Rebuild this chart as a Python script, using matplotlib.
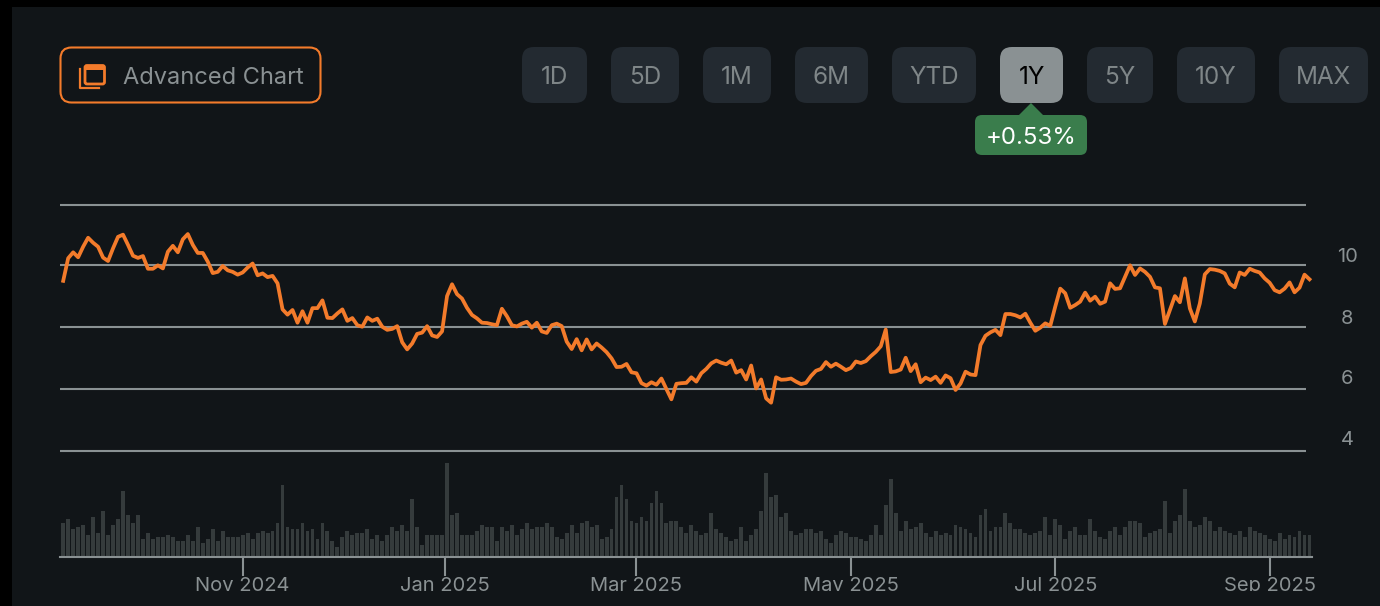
#! /usr/bin/env python

import matplotlib
matplotlib.use('Agg')
import matplotlib.pyplot as plt
from matplotlib.patches import FancyBboxPatch, Polygon, Rectangle

# daily close
close = [
    9.49, 10.22, 10.41, 10.25, 10.59, 10.88, 10.72, 10.59, 10.24, 10.13,
    10.54, 10.91, 10.98, 10.65, 10.30, 10.23, 10.29, 9.88, 9.88, 9.99,
    9.89, 10.43, 10.62, 10.41, 10.83, 11.00, 10.65, 10.39, 10.39, 10.11,
    9.74, 9.78, 9.97, 9.83, 9.78, 9.69, 9.76, 9.92, 10.05, 9.67,
    9.73, 9.61, 9.65, 9.41, 8.57, 8.40, 8.55, 8.14, 8.51, 8.14,
    8.61, 8.61, 8.86, 8.30, 8.29, 8.44, 8.57, 8.20, 8.29, 8.06,
    8.01, 8.31, 8.20, 8.27, 8.01, 7.91, 7.94, 8.03, 7.51, 7.28,
    7.47, 7.78, 7.82, 8.03, 7.73, 7.68, 7.86, 9.00, 9.38, 9.06,
    8.92, 8.62, 8.39, 8.28, 8.14, 8.13, 8.09, 8.06, 8.59, 8.35,
    8.06, 8.02, 8.11, 8.17, 7.98, 8.14, 7.86, 7.81, 8.06, 8.11,
    8.03, 7.53, 7.29, 7.61, 7.25, 7.60, 7.28, 7.47, 7.34, 7.19,
    6.99, 6.71, 6.72, 6.81, 6.54, 6.51, 6.19, 6.11, 6.22, 6.14,
    6.34, 6.00, 5.67, 6.17, 6.19, 6.20, 6.38, 6.24, 6.51, 6.65,
    6.83, 6.92, 6.85, 6.80, 6.92, 6.53, 6.61, 6.31, 6.76, 6.02,
    6.31, 5.70, 5.56, 6.38, 6.30, 6.31, 6.34, 6.24, 6.16, 6.20,
    6.42, 6.59, 6.65, 6.87, 6.72, 6.82, 6.72, 6.61, 6.68, 6.89,
    6.84, 6.90, 7.06, 7.20, 7.38, 7.92, 6.55, 6.57, 6.63, 7.01,
    6.58, 6.80, 6.22, 6.37, 6.29, 6.40, 6.20, 6.44, 6.35, 5.97,
    6.18, 6.56, 6.47, 6.45, 7.42, 7.72, 7.83, 7.91, 7.74, 8.42,
    8.42, 8.38, 8.31, 8.43, 8.14, 7.88, 7.98, 8.12, 8.04, 8.66,
    9.24, 9.09, 8.62, 8.71, 8.82, 9.11, 8.85, 8.98, 8.75, 8.82,
    9.41, 9.23, 9.25, 9.62, 9.99, 9.68, 9.89, 9.78, 9.62, 9.28,
    9.25, 8.10, 8.55, 9.00, 8.80, 9.57, 8.60, 8.18, 8.76, 9.70,
    9.87, 9.85, 9.81, 9.73, 9.40, 9.28, 9.76, 9.68, 9.88, 9.81,
    9.76, 9.57, 9.43, 9.19, 9.12, 9.24, 9.44, 9.12, 9.27, 9.69,
    9.54,
]

volume = [
    10.0, 11.2, 8.2, 8.8, 9.4, 6.4, 11.8, 7.0, 13.6, 6.4,
    9.4, 11.2, 19.6, 12.4, 10.0, 12.4, 5.2, 7.0, 5.2, 5.8,
    5.8, 6.4, 5.8, 4.6, 4.6, 6.4, 4.6, 8.8, 4.0, 5.2,
    8.2, 4.6, 7.6, 5.8, 5.8, 5.8, 6.4, 7.0, 5.2, 7.0,
    7.6, 7.0, 7.6, 10.0, 21.4, 8.8, 8.2, 8.2, 10.0, 7.6,
    8.2, 5.2, 10.0, 7.6, 4.6, 2.8, 5.8, 7.6, 6.4, 7.0,
    7.0, 8.2, 5.2, 6.4, 4.6, 6.4, 8.8, 7.6, 9.4, 7.6,
    17.2, 8.8, 3.4, 6.4, 6.4, 6.4, 6.4, 28.0, 12.4, 13.0,
    6.4, 6.4, 6.4, 7.6, 9.4, 8.8, 8.8, 4.6, 8.8, 7.6,
    9.4, 6.4, 8.2, 10.0, 8.2, 8.8, 8.8, 10.0, 8.8, 5.8,
    5.2, 7.0, 9.4, 7.0, 10.0, 10.6, 8.8, 9.4, 5.2, 5.8,
    8.2, 17.8, 21.4, 17.2, 10.6, 10.0, 11.8, 10.6, 16.0, 19.6,
    16.0, 10.0, 10.6, 10.6, 8.8, 7.0, 9.4, 7.6, 6.4, 7.0,
    13.0, 8.2, 7.0, 5.8, 4.6, 5.2, 8.8, 4.6, 6.4, 8.2,
    13.6, 25.0, 17.8, 18.4, 11.8, 13.0, 7.6, 6.4, 7.0, 8.2,
    8.2, 7.0, 7.6, 5.2, 4.0, 6.4, 7.6, 7.0, 5.8, 5.8,
    5.2, 4.6, 6.4, 9.4, 6.4, 15.4, 23.2, 13.0, 7.6, 10.6,
    8.2, 8.8, 10.0, 7.0, 5.8, 7.6, 6.4, 7.0, 6.4, 9.4,
    8.8, 8.2, 7.0, 5.8, 12.4, 14.2, 7.6, 8.8, 8.8, 13.0,
    10.0, 8.2, 8.2, 7.0, 6.4, 7.0, 7.6, 11.8, 6.4, 11.2,
    9.4, 5.2, 7.6, 8.8, 6.4, 6.4, 11.2, 7.6, 5.8, 5.2,
    7.6, 8.8, 6.4, 8.8, 10.6, 10.6, 10.0, 5.8, 7.0, 7.6,
    8.2, 16.6, 7.0, 10.6, 12.4, 20.2, 10.6, 8.8, 9.4, 11.8,
    10.6, 7.6, 8.8, 7.6, 7.0, 6.4, 7.6, 5.8, 8.8, 7.6,
    7.0, 6.4, 5.2, 4.6, 7.0, 5.2, 6.4, 5.8, 7.6, 6.4,
    6.4,
]

price_ticks = [4, 6, 8, 10]
month_pos = [36, 76.5, 115, 158, 199, 242]
month_labels = ['Nov 2024', 'Jan 2025', 'Mar 2025', 'May 2025', 'Jul 2025', 'Sep 2025']
ranges = ['1D', '5D', '1M', '6M', 'YTD', '1Y', '5Y', '10Y', 'MAX']
range_edges = [(522, 587), (611, 679), (703, 771), (795, 868), (892, 976),
               (1000, 1063), (1087, 1153), (1177, 1255), (1279, 1368)]

W, H = 1380, 606
BG = '#111518'
ORANGE = '#f37b2b'
GREY = '#8a9193'

plt.rcParams['font.family'] = ['Inter', 'DejaVu Sans']


def axes_px(fig, x0, y0, x1, y1):
    # pixel box (y from the top) to an axes
    return fig.add_axes([x0 / W, 1 - y1 / H, (x1 - x0) / W, (y1 - y0) / H])


def round_box(ax, x0, y0, x1, y1, r, **kw):
    ax.add_patch(FancyBboxPatch((x0 + r, y0 + r), x1 - x0 - 2 * r, y1 - y0 - 2 * r,
                                boxstyle=f'round,pad={r},rounding_size={r}', **kw))


fig = plt.figure(figsize=(W / 100, H / 100), dpi=100, facecolor=BG)
days = list(range(len(close)))
xlim = (-0.64, 250.5)

# price
ax = axes_px(fig, 60, 190, 1312, 470)
ax.set_xlim(*xlim)
ax.set_ylim(3.39, 12.42)
ax.axis('off')
ax.hlines(price_ticks + [11.95], xlim[0], 249.3, color=GREY, lw=1.5, zorder=1)
ax.plot(days, close, color=ORANGE, lw=2.7, solid_joinstyle='round', clip_on=False, zorder=2)
for tick, up in zip(price_ticks, [13, 12, 10, 10]):
    ax.annotate(str(tick), (1347, tick), xycoords=('figure pixels', 'data'),
                xytext=(0, (up - 2) * 0.72), textcoords='offset points',
                color=GREY, fontsize=14.5, ha='center', va='center', annotation_clip=False)

# volume
vax = axes_px(fig, 60, 460, 1312, 556.5)
vax.set_xlim(*xlim)
vax.set_ylim(0, 28.9)
vax.bar(days, volume, width=0.77, color='#353b3c', linewidth=0)
vax.set_facecolor('none')
for side in ['top', 'left', 'right']:
    vax.spines[side].set_visible(False)
vax.spines['bottom'].set_color(GREY)
vax.spines['bottom'].set_linewidth(1.5)
vax.set_yticks([])
vax.set_xticks(month_pos)
vax.set_xticklabels(month_labels, color=GREY, fontsize=14.5)
vax.tick_params(axis='x', length=13.5, width=1.5, color=GREY, pad=1)

# buttons and the rest, in pixels
ui = fig.add_axes([0, 0, 1, 1], zorder=5)
ui.set_xlim(0, W)
ui.set_ylim(H, 0)
ui.axis('off')
ui.patch.set_alpha(0)

# labels are cut off along the bottom and the shot has a black edge
ui.add_patch(Rectangle((0, 591), W, H - 591, color=BG, lw=0))
ui.add_patch(Rectangle((0, 0), W, 7, color='black', lw=0))
ui.add_patch(Rectangle((0, 0), 12, H, color='black', lw=0))

round_box(ui, 60.5, 47.5, 320.5, 102.5, 11, fc='none', ec=ORANGE, lw=1.5)
ui.text(213, 78, 'Advanced Chart', color=GREY, fontsize=17, ha='center', va='center')

# stacked windows icon
round_box(ui, 85, 65.5, 104.5, 84, 2, fc='none', ec=ORANGE, lw=2)
ui.add_patch(Rectangle((85, 65), 19.5, 4.5, color=ORANGE, lw=0))
ui.plot([79.5, 79.5, 99], [69, 87.5, 87.5], color=ORANGE, lw=1.6)

for name, (x0, x1) in zip(ranges, range_edges):
    active = name == '1Y'
    round_box(ui, x0, 47, x1, 103, 12, fc=GREY if active else '#232a31', ec='none')
    ui.text((x0 + x1) / 2, 78, name, color='black' if active else '#7f8688',
            fontsize=17.5, ha='center', va='center')

ui.add_patch(Polygon([(1018, 116), (1031, 103), (1044, 116)], color='#3a7d4c', lw=0))
round_box(ui, 975, 115, 1087, 155, 7, fc='#3a7d4c', ec='none')
ui.text(1031, 138, '+0.53%', color='white', fontsize=17.3, ha='center', va='center')

fig.savefig('out.png', dpi=100, facecolor=BG)
